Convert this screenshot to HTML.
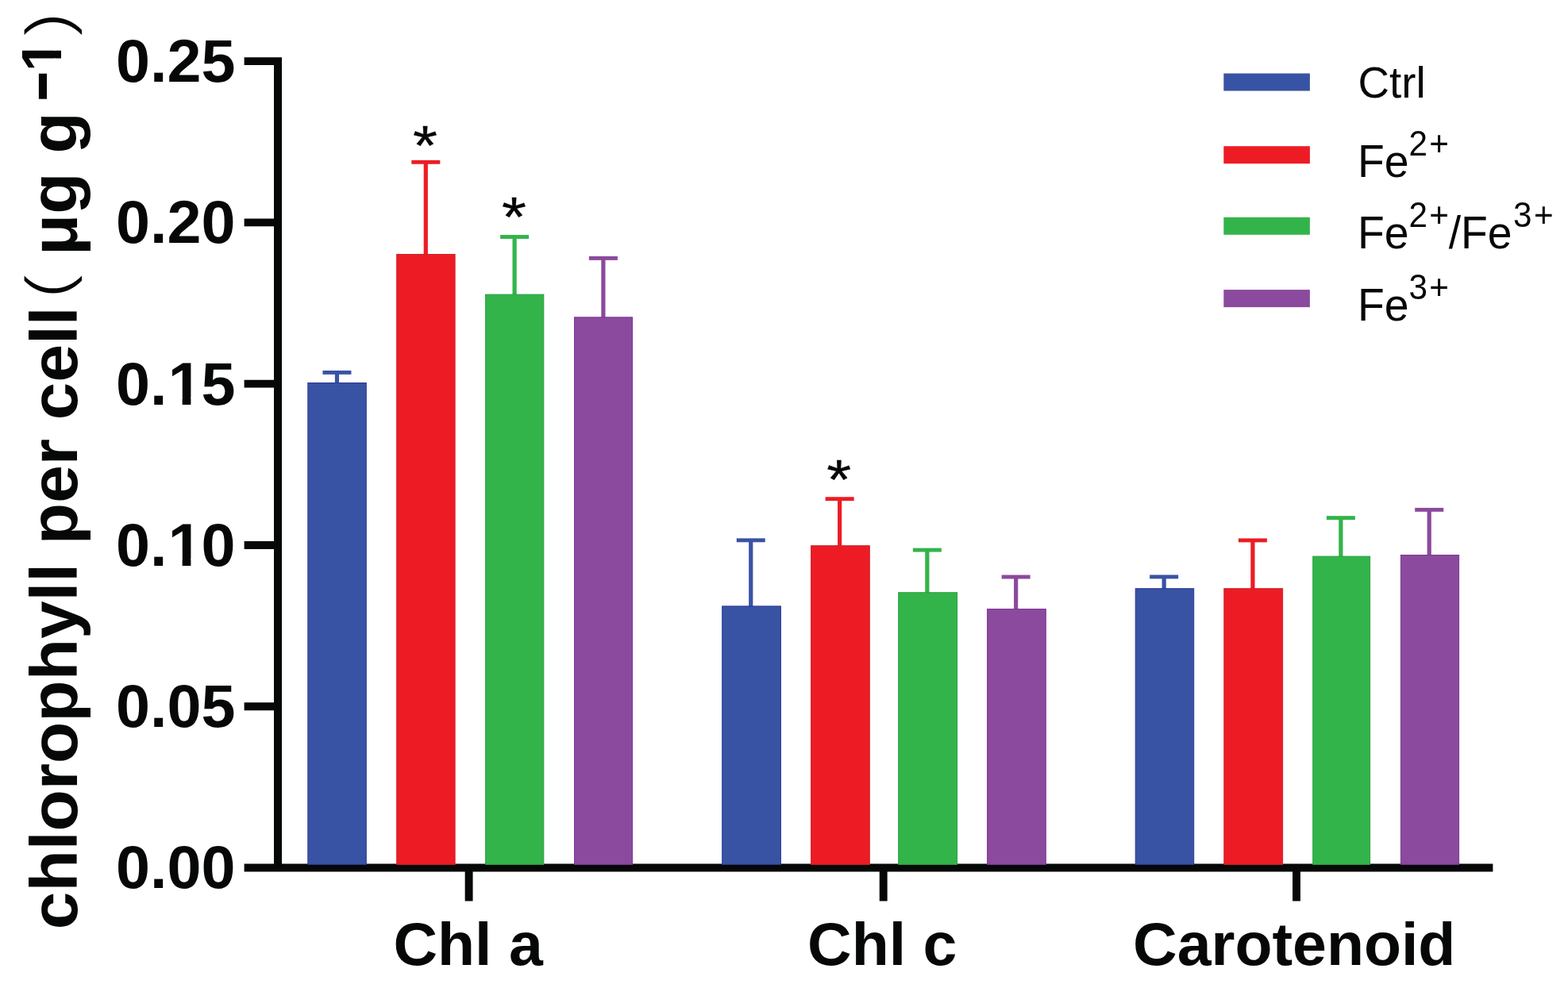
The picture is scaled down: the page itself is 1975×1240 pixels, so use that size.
<!DOCTYPE html>
<html lang="en"><head><meta charset="utf-8"><title>Chlorophyll per cell</title>
<style>
html,body{margin:0;padding:0;background:#fff;}
body{width:1975px;height:1240px;overflow:hidden;}
svg{display:block;}
text{font-family:"Liberation Sans","Noto Sans CJK SC",sans-serif;fill:#060707;}
.b{font-weight:bold;}
.cjk{font-family:"Liberation Sans","IPAGothic","Noto Sans CJK JP",sans-serif;font-weight:normal;}
</style></head><body>
<svg width="1975" height="1240" viewBox="0 0 1975 1240">
<defs><clipPath id="c1" clipPathUnits="userSpaceOnUse"><path clip-rule="evenodd" d="M-200 -90H10V30H-200ZM-78.93 -8.80H-64.89V1.00H-78.93ZM-54.42 -8.80H-41.17V1.00H-54.42Z"/></clipPath><clipPath id="c2" clipPathUnits="userSpaceOnUse"><path clip-rule="evenodd" d="M-60 -130H1260V70H-60ZM1084.50 -28.38H1097.59V-19.06H1084.50ZM1107.49 -28.38H1119.99V-19.06H1107.49Z"/></clipPath></defs>
<rect x="0" y="0" width="1975" height="1240" fill="#ffffff"/>
<path id="axes" fill="#060707" d="M345.00 72.20H355.00V1098.40H345.00ZM307.60 1088.55H1880.40V1098.40H307.60ZM307.60 72.20H346.00V82.10H307.60ZM307.60 275.46H346.00V285.36H307.60ZM307.60 478.72H346.00V488.62H307.60ZM307.60 681.98H346.00V691.88H307.60ZM307.60 885.24H346.00V895.14H307.60ZM585.65 1097.40H595.55V1135.60H585.65ZM1107.75 1097.40H1117.65V1135.60H1107.75ZM1628.05 1097.40H1637.95V1135.60H1628.05Z"/>
<g id="bars">
<rect x="421.85" y="469.4" width="5.2" height="13.6" fill="#3953A4"/>
<rect x="406.45" y="466.95" width="36.0" height="4.9" fill="#3953A4"/>
<rect x="387.80" y="482.50" width="73.50" height="606.90" fill="#3953A4" stroke="#2C3693" stroke-width="1"/>
<rect x="533.70" y="204.3" width="5.2" height="116.7" fill="#ED1C24"/>
<rect x="518.30" y="201.85" width="36.0" height="4.9" fill="#ED1C24"/>
<rect x="499.70" y="320.50" width="73.40" height="768.90" fill="#ED1C24" stroke="#C8222A" stroke-width="1"/>
<rect x="645.50" y="298.5" width="5.2" height="73.1" fill="#33B44A"/>
<rect x="630.10" y="296.05" width="36.0" height="4.9" fill="#33B44A"/>
<rect x="611.60" y="371.10" width="73.20" height="718.30" fill="#33B44A" stroke="#2A9E40" stroke-width="1"/>
<rect x="757.30" y="325.4" width="5.2" height="74.9" fill="#8B4A9D"/>
<rect x="741.90" y="322.95" width="36.0" height="4.9" fill="#8B4A9D"/>
<rect x="723.50" y="399.80" width="73.00" height="689.60" fill="#8B4A9D" stroke="#7C3692" stroke-width="1"/>
<rect x="943.15" y="680.8" width="5.2" height="83.6" fill="#3953A4"/>
<rect x="927.75" y="678.35" width="36.0" height="4.9" fill="#3953A4"/>
<rect x="909.70" y="763.90" width="73.70" height="325.50" fill="#3953A4" stroke="#2C3693" stroke-width="1"/>
<rect x="1055.05" y="628.7" width="5.2" height="59.5" fill="#ED1C24"/>
<rect x="1039.65" y="626.25" width="36.0" height="4.9" fill="#ED1C24"/>
<rect x="1021.60" y="687.70" width="73.70" height="401.70" fill="#ED1C24" stroke="#C8222A" stroke-width="1"/>
<rect x="1165.25" y="693.1" width="5.2" height="54.1" fill="#33B44A"/>
<rect x="1149.85" y="690.65" width="36.0" height="4.9" fill="#33B44A"/>
<rect x="1131.70" y="746.70" width="73.90" height="342.70" fill="#33B44A" stroke="#2A9E40" stroke-width="1"/>
<rect x="1277.05" y="727.0" width="5.2" height="41.0" fill="#8B4A9D"/>
<rect x="1261.65" y="724.55" width="36.0" height="4.9" fill="#8B4A9D"/>
<rect x="1243.60" y="767.50" width="73.70" height="321.90" fill="#8B4A9D" stroke="#7C3692" stroke-width="1"/>
<rect x="1463.55" y="726.9" width="5.2" height="15.3" fill="#3953A4"/>
<rect x="1448.15" y="724.45" width="36.0" height="4.9" fill="#3953A4"/>
<rect x="1430.20" y="741.70" width="73.50" height="347.70" fill="#3953A4" stroke="#2C3693" stroke-width="1"/>
<rect x="1575.30" y="680.9" width="5.2" height="61.3" fill="#ED1C24"/>
<rect x="1559.90" y="678.45" width="36.0" height="4.9" fill="#ED1C24"/>
<rect x="1541.80" y="741.70" width="73.80" height="347.70" fill="#ED1C24" stroke="#C8222A" stroke-width="1"/>
<rect x="1686.25" y="652.6" width="5.2" height="49.0" fill="#33B44A"/>
<rect x="1670.85" y="650.15" width="36.0" height="4.9" fill="#33B44A"/>
<rect x="1653.70" y="701.10" width="71.90" height="388.30" fill="#33B44A" stroke="#2A9E40" stroke-width="1"/>
<rect x="1797.60" y="642.4" width="5.2" height="57.6" fill="#8B4A9D"/>
<rect x="1782.20" y="639.95" width="36.0" height="4.9" fill="#8B4A9D"/>
<rect x="1764.40" y="699.50" width="73.20" height="389.90" fill="#8B4A9D" stroke="#7C3692" stroke-width="1"/>
</g>
<g id="yticklabels" class="b" font-size="75.1">
<g transform="translate(296.4,103.05) scale(1.029,1)">
<text x="-146.17" y="0">0.25</text>
</g>
<g transform="translate(296.4,306.31) scale(1.029,1)">
<text x="-146.17" y="0">0.20</text>
</g>
<g transform="translate(296.4,509.57) scale(1.029,1)">
<text x="-146.17" y="0" clip-path="url(#c1)">0.<tspan dx="1.2">1</tspan><tspan dx="-1.2">5</tspan></text>
</g>
<g transform="translate(296.4,712.83) scale(1.029,1)">
<text x="-146.17" y="0" clip-path="url(#c1)">0.<tspan dx="1.2">1</tspan><tspan dx="-1.2">0</tspan></text>
</g>
<g transform="translate(296.4,916.09) scale(1.029,1)">
<text x="-146.17" y="0">0.05</text>
</g>
<g transform="translate(296.4,1119.35) scale(1.029,1)">
<text x="-146.17" y="0">0.00</text>
</g>
</g>
<g id="xlabels" class="b" font-size="77.0" text-anchor="middle">
<text transform="translate(589.6,1215.8) scale(1,0.975)" x="0" y="0">Chl a</text>
<text transform="translate(1111.2,1215.8) scale(1,0.975)" x="0" y="0">Chl c</text>
<text transform="translate(1630.2,1215.8) scale(1,0.975)" x="0" y="0">Carotenoid</text>
</g>
<g id="stars" font-size="79.5" text-anchor="middle">
<text transform="translate(535.5,208.34) scale(1,0.875)" x="0" y="0" stroke="#060707" stroke-width="0.4">*</text>
<text transform="translate(647.4,297.74) scale(1,0.875)" x="0" y="0" stroke="#060707" stroke-width="0.4">*</text>
<text transform="translate(1056.7,629.44) scale(1,0.875)" x="0" y="0" stroke="#060707" stroke-width="0.4">*</text>
</g>
<g id="legend">
<rect x="1541.3" y="92.5" width="108.6" height="22" fill="#3953A4"/>
<rect x="1541.3" y="184.2" width="108.6" height="22" fill="#ED1C24"/>
<rect x="1541.3" y="273.8" width="108.6" height="22" fill="#33B44A"/>
<rect x="1541.3" y="365.1" width="108.6" height="22" fill="#8B4A9D"/>
<text x="1710.5" y="123.3" font-size="54.7">Ctrl</text>
<text transform="translate(1710.0,223.2) scale(1,1.03)" x="0" y="0" font-size="55.3">Fe<tspan font-size="42.3" x="64.4 90.2" y="-26.21">2+</tspan></text>
<text transform="translate(1710.0,312.9) scale(1,1.03)" x="0" y="0" font-size="55.3">Fe<tspan font-size="42.3" x="64.4 90.2" y="-26.21">2+</tspan><tspan x="114.7" y="0">/Fe</tspan><tspan font-size="42.3" x="196.1 221.9" y="-26.21">3+</tspan></text>
<text transform="translate(1710.0,403.5) scale(1,1.03)" x="0" y="0" font-size="55.3">Fe<tspan font-size="42.3" x="64.4 90.2" y="-26.21">3+</tspan></text>
</g>
<g id="ytitle" transform="translate(96.6,1171.2) rotate(-90) scale(1,0.982)">
<text class="b" font-size="85.6" clip-path="url(#c2)"><tspan x="0" y="0">chlorophyll per cell</tspan><tspan class="cjk" font-size="82.3" x="747.8" y="0">（</tspan><tspan x="849.2" y="0">μg g</tspan><tspan font-size="55.3" x="1046.43" y="-25.02" stroke="#060707" stroke-width="4.25" stroke-linejoin="miter">−</tspan><tspan font-size="71.0" x="1081.1" y="-20.06">1</tspan><tspan class="cjk" font-size="82.3" x="1121.0" y="0">）</tspan></text>
</g>
</svg>
</body></html>
